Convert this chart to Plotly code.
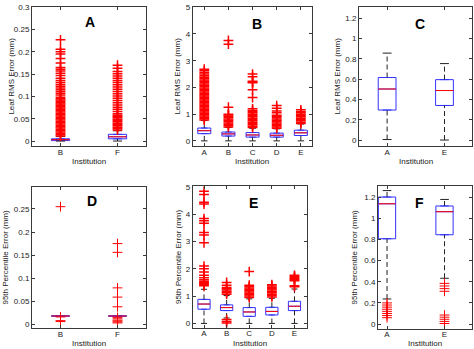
import plotly.graph_objects as go

# ---------------- data ----------------
# Panel A : Leaf RMS Error, institutions B, F
a_cats = ["B", "F"]
a_q1 = [0.001, 0.005]
a_med = [0.003, 0.0095]
a_q3 = [0.005, 0.015]
a_lo = [0.0, 0.0]
a_hi = [0.010, 0.023]
a_out = [
    [0.011, 0.014, 0.017, 0.020, 0.023, 0.026, 0.029, 0.032, 0.035, 0.038, 0.041, 0.044,
     0.047, 0.050, 0.053, 0.056, 0.059, 0.062, 0.065, 0.068, 0.071, 0.074, 0.077, 0.080,
     0.083, 0.086, 0.089, 0.092, 0.095, 0.098, 0.103, 0.107, 0.111, 0.115, 0.119, 0.123,
     0.127, 0.131, 0.136, 0.141, 0.147, 0.152, 0.157, 0.161, 0.165, 0.175, 0.185, 0.195,
     0.200, 0.206, 0.227],
    [0.025, 0.028, 0.031, 0.034, 0.037, 0.040, 0.043, 0.046, 0.049, 0.052, 0.055, 0.058,
     0.061, 0.066, 0.071, 0.076, 0.081, 0.086, 0.091, 0.096, 0.101, 0.106, 0.111, 0.116,
     0.121, 0.126, 0.131, 0.136, 0.141, 0.146, 0.151, 0.156, 0.163, 0.170],
]

# Panel B : Leaf RMS Error, institutions A-E
b_cats = ["A", "B", "C", "D", "E"]
b_q1 = [0.27, 0.18, 0.14, 0.14, 0.20]
b_med = [0.38, 0.26, 0.22, 0.21, 0.30]
b_q3 = [0.48, 0.33, 0.31, 0.29, 0.40]
b_lo = [0.0, 0.0, 0.0, 0.0, 0.0]
b_hi = [0.76, 0.50, 0.47, 0.45, 0.63]
b_out = [
    [0.78, 0.83, 0.88, 0.93, 0.98, 1.03, 1.08, 1.13, 1.18, 1.23, 1.28, 1.33, 1.38, 1.43,
     1.48, 1.53, 1.58, 1.63, 1.68, 1.73, 1.78, 1.83, 1.88, 1.93, 1.98, 2.03, 2.08, 2.13,
     2.18, 2.23, 2.28, 2.33, 2.38, 2.44, 2.50, 2.56, 2.62, 2.68],
    [0.52, 0.57, 0.62, 0.67, 0.72, 0.77, 0.82, 0.87, 0.92, 0.97, 1.00, 1.26, 3.62, 3.76],
    [0.50, 0.55, 0.60, 0.65, 0.70, 0.75, 0.80, 0.85, 0.90, 0.95, 1.00, 1.05, 1.10, 1.14,
     1.20, 1.62, 1.91, 2.17, 2.20, 2.23, 2.40, 2.50],
    [0.47, 0.52, 0.57, 0.62, 0.67, 0.72, 0.77, 0.82, 0.87, 0.92, 0.96, 1.05, 1.12, 1.22, 1.32],
    [0.65, 0.70, 0.75, 0.80, 0.85, 0.90, 0.95, 1.00, 1.05, 1.10, 1.16],
]

# Panel C : Leaf RMS Error, institutions A, E
c_cats = ["A", "E"]
c_q1 = [0.295, 0.340]
c_med = [0.502, 0.487]
c_q3 = [0.615, 0.594]
c_lo = [0.005, 0.0]
c_hi = [0.855, 0.752]
c_out = [[], []]

# Panel D : 95th Percentile Error, institutions B, F
d_cats = ["B", "F"]
d_q1 = [0.018, 0.018]
d_med = [0.018, 0.018]
d_q3 = [0.018, 0.018]
d_lo = [0.018, 0.018]
d_hi = [0.018, 0.018]
d_out = [
    [0.255, 0.016, 0.008, 0.006],
    [0.175, 0.156, 0.079, 0.059, 0.038, 0.015, 0.012, 0.009, 0.007, 0.005, 0.003],
]

# Panel E : 95th Percentile Error, institutions A-E
e_cats = ["A", "B", "C", "D", "E"]
e_q1 = [0.52, 0.47, 0.26, 0.31, 0.47]
e_med = [0.71, 0.58, 0.42, 0.44, 0.63]
e_q3 = [0.88, 0.68, 0.58, 0.59, 0.81]
e_lo = [0.0, 0.20, 0.0, 0.0, 0.0]
e_hi = [1.25, 1.02, 0.90, 0.92, 1.26]
e_out = [
    [1.38, 1.42, 1.46, 1.50, 1.54, 1.60, 1.67, 1.76, 1.88, 2.00, 2.10, 2.95, 3.24, 3.33,
     3.67, 3.76, 3.84, 4.37, 4.44, 4.72, 4.84],
    [1.07, 1.12, 1.17, 1.22, 1.27, 1.32, 1.40, 1.50, 0.14, 0.07, 0.02],
    [0.95, 1.00, 1.05, 1.10, 1.15, 1.20, 1.25, 1.30, 1.35, 1.40, 1.90],
    [0.97, 1.02, 1.07, 1.12, 1.17, 1.22, 1.27, 1.32, 1.37, 1.42],
    [1.34, 1.38, 1.56, 1.60, 1.64, 1.68, 1.72, 1.76],
]

# Panel F : 95th Percentile Error, institutions A, E
f_cats = ["A", "E"]
f_q1 = [0.807, 0.845]
f_med = [1.138, 1.063]
f_q3 = [1.202, 1.117]
f_lo = [0.237, 0.433]
f_hi = [1.263, 1.179]
f_out = [
    [0.20, 0.18, 0.16, 0.14, 0.12, 0.10, 0.08, 0.06],
    [0.385, 0.36, 0.335, 0.31, 0.085, 0.065, 0.045, 0.025, 0.005],
]

a_ticks = [0, 0.05, 0.1, 0.15, 0.2, 0.25, 0.3]
b_ticks = [0, 1, 2, 3, 4, 5]
c_ticks = [0, 0.2, 0.4, 0.6, 0.8, 1, 1.2]
d_ticks = [0, 0.05, 0.1, 0.15, 0.2, 0.25]
e_ticks = [0, 1, 2, 3, 4, 5]
f_ticks = [0, 0.2, 0.4, 0.6, 0.8, 1, 1.2]

top_title = "Leaf RMS Error (mm)"
bot_title = "95th Percentile Error (mm)"
x_title = "Institution"

# ---------------- layout helpers ----------------
W, H = 474, 349
FONT = "Liberation Sans, Arial, sans-serif"
BLUE = "#3232ff"
RED = "#ff0000"
AX = "#3a3a3a"

panels = [
    dict(n=1, letter="A", cats=a_cats, q1=a_q1, med=a_med, q3=a_q3, lo=a_lo, hi=a_hi, out=a_out,
         ticks=a_ticks, ytitle=top_title, mlw=1.5,
         xpx=(32, 146), ypx=(3.3, 144), xr=[0.5, 2.5], yr=[-0.011, 0.3], w=0.32,
         letter_px=(90, 18), ytitle_x=12),
    dict(n=2, letter="B", cats=b_cats, q1=b_q1, med=b_med, q3=b_q3, lo=b_lo, hi=b_hi, out=b_out,
         ticks=b_ticks, ytitle=top_title, mlw=1.5,
         xpx=(192.7, 311.7), ypx=(3.3, 144), xr=[0.52, 5.45], yr=[-0.19, 5.0], w=0.54,
         letter_px=(257, 20), ytitle_x=178),
    dict(n=3, letter="C", cats=c_cats, q1=c_q1, med=c_med, q3=c_q3, lo=c_lo, hi=c_hi, out=c_out,
         ticks=c_ticks, ytitle=top_title, mlw=1.0,
         xpx=(359, 472), ypx=(3.3, 144), xr=[0.51, 2.48], yr=[-0.058, 1.306], w=0.31,
         letter_px=(420, 20), ytitle_x=338),
    dict(n=4, letter="D", cats=d_cats, q1=d_q1, med=d_med, q3=d_q3, lo=d_lo, hi=d_hi, out=d_out,
         ticks=d_ticks, ytitle=bot_title, mlw=1.0,
         xpx=(32, 146), ypx=(185.5, 329), xr=[0.5, 2.5], yr=[-0.0086, 0.298], w=0.32,
         letter_px=(92, 200), ytitle_x=6),
    dict(n=5, letter="E", cats=e_cats, q1=e_q1, med=e_med, q3=e_q3, lo=e_lo, hi=e_hi, out=e_out,
         ticks=e_ticks, ytitle=bot_title, mlw=1.5,
         xpx=(192.7, 306.7), ypx=(185, 328.5), xr=[0.5, 5.54], yr=[-0.16, 5.02], w=0.54,
         letter_px=(253, 202), ytitle_x=178),
    dict(n=6, letter="F", cats=f_cats, q1=f_q1, med=f_med, q3=f_q3, lo=f_lo, hi=f_hi, out=f_out,
         ticks=f_ticks, ytitle=bot_title, mlw=1.0,
         xpx=(378, 472), ypx=(185, 329.3), xr=[0.843, 2.478], yr=[-0.043, 1.303], w=0.30,
         letter_px=(419, 202), ytitle_x=354),
]


def tick_text(v):
    return "%g" % v


fig = go.Figure()
annotations = []
layout_axes = {}

for p in panels:
    n = p["n"]
    xa = "x" if n == 1 else "x%d" % n
    ya = "y" if n == 1 else "y%d" % n
    xs = list(range(1, len(p["cats"]) + 1))
    w = p["w"]

    # box body (whiskers suppressed: fences set to quartiles)
    fig.add_trace(go.Box(
        x=xs, q1=p["q1"], median=p["med"], q3=p["q3"],
        lowerfence=p["q1"], upperfence=p["q3"],
        width=w, boxpoints=False,
        line=dict(color=BLUE, width=1), fillcolor="rgba(0,0,0,0)",
        xaxis=xa, yaxis=ya, showlegend=False, hoverinfo="skip",
    ))

    # dashed whiskers
    wx, wy = [], []
    for i, x in enumerate(xs):
        if p["hi"][i] > p["q3"][i]:
            wx += [x, x, None]
            wy += [p["q3"][i], p["hi"][i], None]
        if p["lo"][i] < p["q1"][i]:
            wx += [x, x, None]
            wy += [p["lo"][i], p["q1"][i], None]
    if wx:
        fig.add_trace(go.Scatter(x=wx, y=wy, mode="lines",
                                 line=dict(color="#222222", width=1, dash="5px,3px"),
                                 xaxis=xa, yaxis=ya, showlegend=False, hoverinfo="skip"))

    # whisker caps
    cx, cy = [], []
    for i, x in enumerate(xs):
        if p["hi"][i] > p["q3"][i]:
            cx += [x - w / 4, x + w / 4, None]
            cy += [p["hi"][i], p["hi"][i], None]
        if p["lo"][i] < p["q1"][i]:
            cx += [x - w / 4, x + w / 4, None]
            cy += [p["lo"][i], p["lo"][i], None]
    if cx:
        fig.add_trace(go.Scatter(x=cx, y=cy, mode="lines",
                                 line=dict(color="#222222", width=1),
                                 xaxis=xa, yaxis=ya, showlegend=False, hoverinfo="skip"))

    # medians
    mx, my = [], []
    for i, x in enumerate(xs):
        mx += [x - w / 2, x + w / 2, None]
        my += [p["med"][i], p["med"][i], None]
    fig.add_trace(go.Scatter(x=mx, y=my, mode="lines",
                             line=dict(color=RED, width=1),
                             xaxis=xa, yaxis=ya, showlegend=False, hoverinfo="skip"))

    # outliers
    ox, oy = [], []
    for i, x in enumerate(xs):
        for v in p["out"][i]:
            ox.append(x)
            oy.append(v)
    if ox:
        fig.add_trace(go.Scatter(x=ox, y=oy, mode="markers",
                                 marker=dict(symbol="cross-thin", size=7,
                                             line=dict(color=RED, width=p["mlw"]), color=RED),
                                 xaxis=xa, yaxis=ya, showlegend=False, hoverinfo="skip"))

    xd = [p["xpx"][0] / W, p["xpx"][1] / W]
    yd = [1 - p["ypx"][1] / H, 1 - p["ypx"][0] / H]
    common = dict(showline=True, linecolor=AX, linewidth=1, mirror="ticks",
                  ticks="inside", ticklen=3, tickcolor=AX, showgrid=False,
                  zeroline=False, tickfont=dict(family=FONT, size=8, color="#222222"))
    layout_axes["xaxis" if n == 1 else "xaxis%d" % n] = dict(
        domain=xd, range=p["xr"], anchor=ya, tickvals=xs, ticktext=p["cats"],
        ticklabelstandoff=-2, **common)
    layout_axes["yaxis" if n == 1 else "yaxis%d" % n] = dict(
        domain=yd, range=p["yr"], anchor=xa, tickvals=p["ticks"],
        ticktext=[tick_text(v) for v in p["ticks"]], **common)

    # panel letter
    annotations.append(dict(x=p["letter_px"][0] / W, y=1 - p["letter_px"][1] / H,
                            xref="paper", yref="paper", text="<b>%s</b>" % p["letter"],
                            showarrow=False, font=dict(family=FONT, size=14, color="black"),
                            xanchor="center", yanchor="middle"))
    # y title
    annotations.append(dict(x=p["ytitle_x"] / W, y=(yd[0] + yd[1]) / 2,
                            xref="paper", yref="paper", text=p["ytitle"], textangle=-90,
                            showarrow=False, font=dict(family=FONT, size=8, color="#222222"),
                            xanchor="center", yanchor="middle"))
    # x title
    xt_y = 160 if n <= 3 else 344
    annotations.append(dict(x=(xd[0] + xd[1]) / 2, y=1 - xt_y / H,
                            xref="paper", yref="paper", text=x_title,
                            showarrow=False, font=dict(family=FONT, size=8, color="#222222"),
                            xanchor="center", yanchor="middle"))

fig.update_layout(
    width=W, height=H, margin=dict(l=0, r=0, t=0, b=0),
    paper_bgcolor="white", plot_bgcolor="white",
    annotations=annotations, boxmode="overlay", **layout_axes,
)

fig.write_html("out.html")
